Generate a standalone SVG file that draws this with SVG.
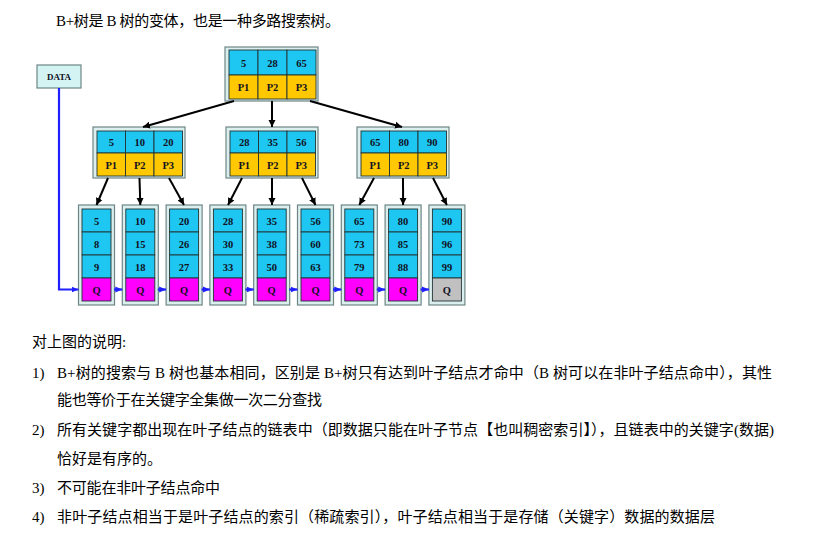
<svg xmlns="http://www.w3.org/2000/svg" width="820" height="541" viewBox="0 0 820 541">
<defs>
<style>
.frame{fill:#dcefef;stroke:#6f8585;stroke-width:1.2}
.c{fill:#1ec6f2;stroke:#233;stroke-width:0.9}
.p{fill:#ffc800;stroke:#233;stroke-width:0.9}
.q{fill:#ff00ff;stroke:#233;stroke-width:0.9}
.g{fill:#c0c0c0;stroke:#233;stroke-width:0.9}
.t{font-family:"Liberation Serif",serif;font-weight:bold;font-size:10.5px;fill:#111122;text-anchor:middle}
.body{font-family:"Liberation Serif","Noto Sans CJK SC",serif;font-size:15px;fill:#000}
.blk{stroke:#000;stroke-width:2;fill:none}
.blu{stroke:#2020ff;stroke-width:2.2;fill:none}
</style>
<marker id="ab" markerUnits="userSpaceOnUse" markerWidth="8" markerHeight="8" refX="7" refY="4" orient="auto"><path d="M0,0.5 L7,4 L0,7.5 Z" fill="#000"/></marker>
<marker id="au" markerUnits="userSpaceOnUse" markerWidth="8" markerHeight="8" refX="7" refY="4" orient="auto"><path d="M0,1 L7,4 L0,7 Z" fill="#2020ff"/></marker>
</defs>
<rect width="820" height="541" fill="#fff"/>

<text class="body" x="56" y="26" textLength="284" lengthAdjust="spacing">B+树是 B 树的变体，也是一种多路搜索树。</text>

<g id="data">
<rect x="37" y="65" width="44" height="23" fill="#d4f4f4" stroke="#6f8585" stroke-width="1.2"/>
<text class="t" x="59" y="80" font-size="9px" style="font-size:9px">DATA</text>
</g>

<g id="root">
<rect class="frame" x="225" y="47" width="93" height="54"/>
<rect class="c" x="229" y="50" width="29" height="25"/><rect class="c" x="258" y="50" width="29" height="25"/><rect class="c" x="287" y="50" width="29" height="25"/>
<rect class="p" x="229" y="75" width="29" height="24"/><rect class="p" x="258" y="75" width="29" height="24"/><rect class="p" x="287" y="75" width="29" height="24"/>
<text class="t" x="243.5" y="66.5">5</text><text class="t" x="272.5" y="66.5">28</text><text class="t" x="301.5" y="66.5">65</text>
<text class="t" x="243.5" y="91">P1</text><text class="t" x="272.5" y="91">P2</text><text class="t" x="301.5" y="91">P3</text>
</g>

<g id="mid1">
<rect class="frame" x="93" y="127" width="92" height="51"/>
<rect class="c" x="97" y="131" width="28.5" height="22"/><rect class="c" x="125.5" y="131" width="28.5" height="22"/><rect class="c" x="154" y="131" width="28.5" height="22"/>
<rect class="p" x="97" y="153" width="28.5" height="23"/><rect class="p" x="125.5" y="153" width="28.5" height="23"/><rect class="p" x="154" y="153" width="28.5" height="23"/>
<text class="t" x="111.3" y="146">5</text><text class="t" x="139.8" y="146">10</text><text class="t" x="168.3" y="146">20</text>
<text class="t" x="111.3" y="168.5">P1</text><text class="t" x="139.8" y="168.5">P2</text><text class="t" x="168.3" y="168.5">P3</text>
</g>

<g id="mid2">
<rect class="frame" x="226" y="127" width="92" height="51"/>
<rect class="c" x="230" y="131" width="28.5" height="22"/><rect class="c" x="258.5" y="131" width="28.5" height="22"/><rect class="c" x="287" y="131" width="28.5" height="22"/>
<rect class="p" x="230" y="153" width="28.5" height="23"/><rect class="p" x="258.5" y="153" width="28.5" height="23"/><rect class="p" x="287" y="153" width="28.5" height="23"/>
<text class="t" x="244.3" y="146">28</text><text class="t" x="272.8" y="146">35</text><text class="t" x="301.3" y="146">56</text>
<text class="t" x="244.3" y="168.5">P1</text><text class="t" x="272.8" y="168.5">P2</text><text class="t" x="301.3" y="168.5">P3</text>
</g>

<g id="mid3">
<rect class="frame" x="357" y="127" width="92" height="51"/>
<rect class="c" x="361" y="131" width="28.5" height="22"/><rect class="c" x="389.5" y="131" width="28.5" height="22"/><rect class="c" x="418" y="131" width="28.5" height="22"/>
<rect class="p" x="361" y="153" width="28.5" height="23"/><rect class="p" x="389.5" y="153" width="28.5" height="23"/><rect class="p" x="418" y="153" width="28.5" height="23"/>
<text class="t" x="375.3" y="146">65</text><text class="t" x="403.8" y="146">80</text><text class="t" x="432.3" y="146">90</text>
<text class="t" x="375.3" y="168.5">P1</text><text class="t" x="403.8" y="168.5">P2</text><text class="t" x="432.3" y="168.5">P3</text>
</g>

<g id="leaf1" transform="translate(78.5,0)">
<rect class="frame" x="0" y="205" width="36" height="100"/>
<rect class="c" x="3.5" y="209" width="29" height="23"/><rect class="c" x="3.5" y="232" width="29" height="23"/><rect class="c" x="3.5" y="255" width="29" height="23"/><rect class="q" x="3.5" y="278" width="29" height="23"/>
<text class="t" x="18" y="224.5">5</text><text class="t" x="18" y="247.5">8</text><text class="t" x="18" y="270.5">9</text><text class="t" x="18" y="293.5">Q</text>
</g>
<g id="leaf2" transform="translate(122.3,0)">
<rect class="frame" x="0" y="205" width="36" height="100"/>
<rect class="c" x="3.5" y="209" width="29" height="23"/><rect class="c" x="3.5" y="232" width="29" height="23"/><rect class="c" x="3.5" y="255" width="29" height="23"/><rect class="q" x="3.5" y="278" width="29" height="23"/>
<text class="t" x="18" y="224.5">10</text><text class="t" x="18" y="247.5">15</text><text class="t" x="18" y="270.5">18</text><text class="t" x="18" y="293.5">Q</text>
</g>
<g id="leaf3" transform="translate(166.1,0)">
<rect class="frame" x="0" y="205" width="36" height="100"/>
<rect class="c" x="3.5" y="209" width="29" height="23"/><rect class="c" x="3.5" y="232" width="29" height="23"/><rect class="c" x="3.5" y="255" width="29" height="23"/><rect class="q" x="3.5" y="278" width="29" height="23"/>
<text class="t" x="18" y="224.5">20</text><text class="t" x="18" y="247.5">26</text><text class="t" x="18" y="270.5">27</text><text class="t" x="18" y="293.5">Q</text>
</g>
<g id="leaf4" transform="translate(209.9,0)">
<rect class="frame" x="0" y="205" width="36" height="100"/>
<rect class="c" x="3.5" y="209" width="29" height="23"/><rect class="c" x="3.5" y="232" width="29" height="23"/><rect class="c" x="3.5" y="255" width="29" height="23"/><rect class="q" x="3.5" y="278" width="29" height="23"/>
<text class="t" x="18" y="224.5">28</text><text class="t" x="18" y="247.5">30</text><text class="t" x="18" y="270.5">33</text><text class="t" x="18" y="293.5">Q</text>
</g>
<g id="leaf5" transform="translate(253.7,0)">
<rect class="frame" x="0" y="205" width="36" height="100"/>
<rect class="c" x="3.5" y="209" width="29" height="23"/><rect class="c" x="3.5" y="232" width="29" height="23"/><rect class="c" x="3.5" y="255" width="29" height="23"/><rect class="q" x="3.5" y="278" width="29" height="23"/>
<text class="t" x="18" y="224.5">35</text><text class="t" x="18" y="247.5">38</text><text class="t" x="18" y="270.5">50</text><text class="t" x="18" y="293.5">Q</text>
</g>
<g id="leaf6" transform="translate(297.5,0)">
<rect class="frame" x="0" y="205" width="36" height="100"/>
<rect class="c" x="3.5" y="209" width="29" height="23"/><rect class="c" x="3.5" y="232" width="29" height="23"/><rect class="c" x="3.5" y="255" width="29" height="23"/><rect class="q" x="3.5" y="278" width="29" height="23"/>
<text class="t" x="18" y="224.5">56</text><text class="t" x="18" y="247.5">60</text><text class="t" x="18" y="270.5">63</text><text class="t" x="18" y="293.5">Q</text>
</g>
<g id="leaf7" transform="translate(341.3,0)">
<rect class="frame" x="0" y="205" width="36" height="100"/>
<rect class="c" x="3.5" y="209" width="29" height="23"/><rect class="c" x="3.5" y="232" width="29" height="23"/><rect class="c" x="3.5" y="255" width="29" height="23"/><rect class="q" x="3.5" y="278" width="29" height="23"/>
<text class="t" x="18" y="224.5">65</text><text class="t" x="18" y="247.5">73</text><text class="t" x="18" y="270.5">79</text><text class="t" x="18" y="293.5">Q</text>
</g>
<g id="leaf8" transform="translate(385.1,0)">
<rect class="frame" x="0" y="205" width="36" height="100"/>
<rect class="c" x="3.5" y="209" width="29" height="23"/><rect class="c" x="3.5" y="232" width="29" height="23"/><rect class="c" x="3.5" y="255" width="29" height="23"/><rect class="q" x="3.5" y="278" width="29" height="23"/>
<text class="t" x="18" y="224.5">80</text><text class="t" x="18" y="247.5">85</text><text class="t" x="18" y="270.5">88</text><text class="t" x="18" y="293.5">Q</text>
</g>
<g id="leaf9" transform="translate(428.9,0)">
<rect class="frame" x="0" y="205" width="36" height="100"/>
<rect class="c" x="3.5" y="209" width="29" height="23"/><rect class="c" x="3.5" y="232" width="29" height="23"/><rect class="c" x="3.5" y="255" width="29" height="23"/><rect class="g" x="3.5" y="278" width="29" height="23"/>
<text class="t" x="18" y="224.5">90</text><text class="t" x="18" y="247.5">96</text><text class="t" x="18" y="270.5">99</text><text class="t" x="18" y="293.5">Q</text>
</g>

<g id="connectors">
<line class="blk" x1="234" y1="101" x2="143" y2="127" marker-end="url(#ab)"/>
<line class="blk" x1="272" y1="101" x2="272" y2="127" marker-end="url(#ab)"/>
<line class="blk" x1="310" y1="101" x2="402" y2="127" marker-end="url(#ab)"/>
<line class="blk" x1="108" y1="178" x2="96.5" y2="205" marker-end="url(#ab)"/>
<line class="blk" x1="139.5" y1="178" x2="140.3" y2="205" marker-end="url(#ab)"/>
<line class="blk" x1="169" y1="178" x2="184" y2="205" marker-end="url(#ab)"/>
<line class="blk" x1="242" y1="178" x2="228" y2="205" marker-end="url(#ab)"/>
<line class="blk" x1="272" y1="178" x2="272" y2="205" marker-end="url(#ab)"/>
<line class="blk" x1="302" y1="178" x2="315.5" y2="205" marker-end="url(#ab)"/>
<line class="blk" x1="374" y1="178" x2="359.3" y2="205" marker-end="url(#ab)"/>
<line class="blk" x1="403" y1="178" x2="403.1" y2="205" marker-end="url(#ab)"/>
<line class="blk" x1="433" y1="178" x2="446.9" y2="205" marker-end="url(#ab)"/>
<path class="blu" d="M59,88 V289.5 H78.5" marker-end="url(#au)"/>
<line class="blu" x1="114" y1="289.5" x2="122.3" y2="289.5" marker-end="url(#au)"/>
<line class="blu" x1="157.8" y1="289.5" x2="166.1" y2="289.5" marker-end="url(#au)"/>
<line class="blu" x1="201.6" y1="289.5" x2="209.9" y2="289.5" marker-end="url(#au)"/>
<line class="blu" x1="245.4" y1="289.5" x2="253.7" y2="289.5" marker-end="url(#au)"/>
<line class="blu" x1="289.2" y1="289.5" x2="297.5" y2="289.5" marker-end="url(#au)"/>
<line class="blu" x1="333" y1="289.5" x2="341.3" y2="289.5" marker-end="url(#au)"/>
<line class="blu" x1="376.8" y1="289.5" x2="385.1" y2="289.5" marker-end="url(#au)"/>
<line class="blu" x1="420.6" y1="289.5" x2="428.9" y2="289.5" marker-end="url(#au)"/>
</g>

<g id="notes">
<text class="body" x="32" y="347">对上图的说明:</text>
<text class="body" x="32" y="378">1)</text>
<text class="body" x="57" y="378" textLength="715" lengthAdjust="spacing">B+树的搜索与 B 树也基本相同，区别是 B+树只有达到叶子结点才命中（B 树可以在非叶子结点命中），其性</text>
<text class="body" x="57" y="405" textLength="265" lengthAdjust="spacing">能也等价于在关键字全集做一次二分查找</text>
<text class="body" x="32" y="435">2)</text>
<text class="body" x="57" y="435" textLength="717" lengthAdjust="spacing">所有关键字都出现在叶子结点的链表中（即数据只能在叶子节点【也叫稠密索引】），且链表中的关键字(数据)</text>
<text class="body" x="57" y="464">恰好是有序的。</text>
<text class="body" x="32" y="493">3)</text>
<text class="body" x="57" y="493" textLength="163" lengthAdjust="spacing">不可能在非叶子结点命中</text>
<text class="body" x="32" y="522">4)</text>
<text class="body" x="57" y="522" textLength="658" lengthAdjust="spacing">非叶子结点相当于是叶子结点的索引（稀疏索引），叶子结点相当于是存储（关键字）数据的数据层</text>
</g>
</svg>
